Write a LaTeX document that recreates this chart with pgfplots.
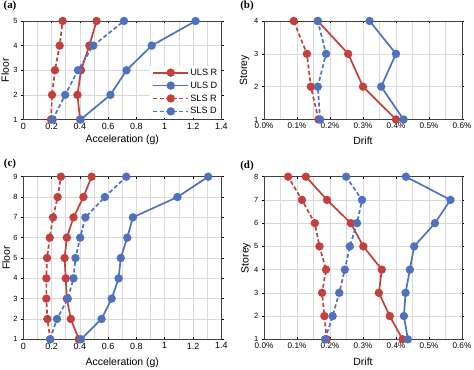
\documentclass[border=0pt]{standalone}
\usepackage{pgfplots}
\pgfplotsset{compat=1.18}
\usepackage{fontspec}
\setmainfont{Liberation Sans}
\newfontfamily\serifb{Liberation Serif}
\definecolor{cR}{RGB}{196,64,60}
\definecolor{cB}{RGB}{79,114,190}
\pgfplotsset{
  base/.style={
    scale only axis, width=198bp,
    axis line style={draw=black!75, line width=0.8bp},
    grid=both, major grid style={draw=black!15, line width=0.55bp},
    minor grid style={draw=black!15, line width=0.55bp},
    minor x tick num=1, minor tick length=0pt,
    major tick length=2.2bp, tick style={black, line width=0.6bp},
    ytick align=outside, xtick align=inside,
    yticklabel style={font=\fontsize{7.5}{8}\selectfont},
    /pgf/number format/assume math mode=true,
    label style={font=\fontsize{10.5}{12}\selectfont},
    clip=false,
  },
  accx/.style={xmin=0, xmax=1.4, xtick={0,0.2,...,1.4},
    xticklabel style={font=\fontsize{9}{10}\selectfont}},
  drx/.style={xmin=0, xmax=0.6, xtick={0,0.1,0.2,0.3,0.4,0.5,0.6},
    xticklabel={\pgfmathprintnumber[fixed,fixed zerofill,precision=1,assume math mode=true]{\tick}\%},
    xticklabel style={font=\fontsize{8.2}{9}\selectfont}},
  ulsr/.style={color=cR, line width=1.7bp, mark=*, mark size=3.3bp, mark options={solid}},
  ulsd/.style={color=cB, line width=1.7bp, mark=*, mark size=3.3bp, mark options={solid}},
  slsr/.style={color=cR, line width=1.7bp, dash pattern=on 4bp off 2.5bp, mark=*, mark size=3.3bp, mark options={solid}},
  slsd/.style={color=cB, line width=1.7bp, dash pattern=on 4bp off 2.5bp, mark=*, mark size=3.3bp, mark options={solid}},
}
\begin{document}
\begin{tikzpicture}
\path[use as bounding box] (0,0) rectangle (474bp,370bp);
% (a)
\begin{axis}[base, accx, at={(23.3bp,250.5bp)}, anchor=south west, height=98.5bp,
  ymin=1, ymax=5, ytick={1,2,3,4,5},
  xlabel={Acceleration (g)}, ylabel={Floor},
  x label style={at={(axis description cs:0.5,-0.203)}, anchor=center},
  y label style={at={(axis description cs:-0.092,0.5)}, anchor=center},
  legend style={at={(axis description cs:0.997,0.012)}, anchor=south east,
    draw=none, fill=white, font=\fontsize{9.2}{10}\selectfont,
    inner xsep=2bp, inner ysep=1.5bp, row sep=2.4bp,
    nodes={inner sep=1.2bp, text height=6.6bp, text depth=1.5bp}},
  legend cell align=left,
  legend image code/.code={\draw[mark repeat=2,mark phase=2,#1] plot coordinates {(0bp,0bp) (17.5bp,0bp) (35bp,0bp)};},
]
\addplot[ulsr] coordinates {(0.401,1) (0.383,2) (0.408,3) (0.467,4) (0.518,5)};
\addplot[ulsd] coordinates {(0.406,1) (0.616,2) (0.730,3) (0.908,4) (1.218,5)};
\addplot[slsr] coordinates {(0.196,1) (0.203,2) (0.224,3) (0.257,4) (0.278,5)};
\addplot[slsd] coordinates {(0.208,1) (0.296,2) (0.387,3) (0.495,4) (0.712,5)};
\legend{ULS R, ULS D, SLS R, SLS D}
\end{axis}
% (b)
\begin{axis}[base, drx, at={(264bp,250.5bp)}, anchor=south west, height=98.5bp,
  ymin=1, ymax=4, ytick={1,2,3,4},
  xlabel={Drift}, ylabel={Storey},
  x label style={at={(axis description cs:0.5,-0.218)}, anchor=center},
  y label style={at={(axis description cs:-0.098,0.5)}, anchor=center},
]
\addplot[ulsr] coordinates {(0.400,1) (0.300,2) (0.255,3) (0.163,4)};
\addplot[ulsd] coordinates {(0.423,1) (0.355,2) (0.400,3) (0.320,4)};
\addplot[slsr] coordinates {(0.165,1) (0.142,2) (0.130,3) (0.090,4)};
\addplot[slsd] coordinates {(0.170,1) (0.163,2) (0.188,3) (0.163,4)};
\end{axis}
% (c)
\begin{axis}[base, accx, at={(23.3bp,30.7bp)}, anchor=south west, height=162.6bp,
  ymin=1, ymax=9, ytick={1,2,...,9},
  xlabel={Acceleration (g)}, ylabel={Floor},
  x label style={at={(axis description cs:0.5,-0.146)}, anchor=center},
  y label style={at={(axis description cs:-0.087,0.5)}, anchor=center},
]
\addplot[ulsr] coordinates {(0.392,1) (0.336,2) (0.308,3) (0.300,4) (0.292,5) (0.308,6) (0.355,7) (0.425,8) (0.483,9)};
\addplot[ulsd] coordinates {(0.408,1) (0.553,2) (0.625,3) (0.674,4) (0.689,5) (0.735,6) (0.775,7) (1.090,8) (1.307,9)};
\addplot[slsr] coordinates {(0.191,1) (0.170,2) (0.163,3) (0.163,4) (0.168,5) (0.187,6) (0.210,7) (0.243,8) (0.266,9)};
\addplot[slsd] coordinates {(0.189,1) (0.238,2) (0.315,3) (0.355,4) (0.369,5) (0.402,6) (0.439,7) (0.577,8) (0.728,9)};
\end{axis}
% (d)
\begin{axis}[base, drx, at={(264bp,30.7bp)}, anchor=south west, height=162.6bp,
  ymin=1, ymax=8, ytick={1,2,...,8},
  xlabel={Drift}, ylabel={Storey},
  x label style={at={(axis description cs:0.5,-0.139)}, anchor=center},
  y label style={at={(axis description cs:-0.091,0.5)}, anchor=center},
]
\addplot[ulsr] coordinates {(0.420,1) (0.381,2) (0.348,3) (0.357,4) (0.301,5) (0.263,6) (0.191,7) (0.127,8)};
\addplot[ulsd] coordinates {(0.436,1) (0.424,2) (0.429,3) (0.442,4) (0.455,5) (0.518,6) (0.565,7) (0.430,8)};
\addplot[slsr] coordinates {(0.190,1) (0.183,2) (0.176,3) (0.188,4) (0.168,5) (0.154,6) (0.115,7) (0.073,8)};
\addplot[slsd] coordinates {(0.185,1) (0.208,2) (0.228,3) (0.245,4) (0.260,5) (0.282,6) (0.297,7) (0.249,8)};
\end{axis}
\node[font=\serifb\bfseries\fontsize{11}{13}\selectfont] at (10bp,364bp) {(a)};
\node[font=\serifb\bfseries\fontsize{11}{13}\selectfont] at (247bp,364bp) {(b)};
\node[font=\serifb\bfseries\fontsize{11}{13}\selectfont] at (10bp,206bp) {(c)};
\node[font=\serifb\bfseries\fontsize{11}{13}\selectfont] at (247bp,204bp) {(d)};
\end{tikzpicture}
\end{document}
